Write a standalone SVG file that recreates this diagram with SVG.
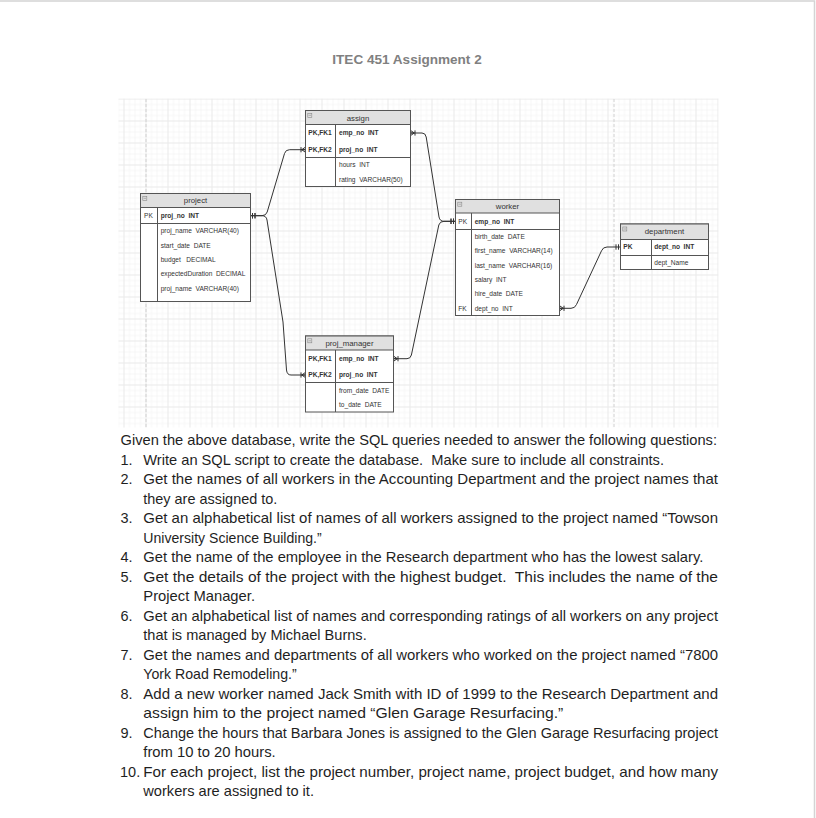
<svg xmlns="http://www.w3.org/2000/svg" width="816" height="818" viewBox="0 0 816 818">
<style>
.t{font-family:"Liberation Sans",Arial,sans-serif;font-size:6.6px;fill:#333;white-space:pre}
.b{font-weight:bold}
.h{font-family:"Liberation Sans",Arial,sans-serif;font-size:7.8px;text-anchor:middle;fill:#333}
.box{fill:#fff;stroke:#555;stroke-width:1}
.hd{fill:#e0e0e0;stroke:#555;stroke-width:1}
.ln{stroke:#555;stroke-width:1;fill:none}
.ic{fill:none;stroke:#888;stroke-width:.6}
.conn path{fill:none;stroke:#333;stroke-width:1}
.mk{fill:none;stroke:#333;stroke-width:1}
.body{font-family:"Liberation Sans",Arial,sans-serif;font-size:14.5px;fill:#1f1f1f;white-space:pre}
.title{font-family:"Liberation Sans",Arial,sans-serif;font-size:13px;font-weight:bold;fill:#808080}
</style>
<defs>
<pattern id="grid" x="123.5" y="98.5" width="22" height="22" patternUnits="userSpaceOnUse">
<path d="M6 0V22M11.5 0V22M17 0V22M0 6H22M0 11.5H22M0 17H22" stroke="#f6f6f6" stroke-width="1" fill="none"/>
<path d="M0.5 0V22M0 0.5H22" stroke="#e9e9e9" stroke-width="1" fill="none"/>
</pattern>
<marker id="one" markerWidth="12" markerHeight="12" refX="10" refY="5" orient="auto-start-reverse" markerUnits="userSpaceOnUse" overflow="visible">
<path class="mk" d="M8,2.3V7.7M5.5,2.3V7.7"/>
</marker>
<marker id="many" markerWidth="12" markerHeight="12" refX="10" refY="5" orient="auto-start-reverse" markerUnits="userSpaceOnUse" overflow="visible">
<path class="mk" d="M10,2.4L6.2,5L10,7.6M6.2,5H10M5.5,2.4V7.6"/>
</marker>
</defs>

<rect x="0" y="0" width="816" height="818" fill="#fff"/>
<path d="M0 1H814.5V818" fill="none" stroke="#d4d4d4" stroke-width="1.5"/>

<text class="title" x="332.3" y="64" textLength="149.4" lengthAdjust="spacingAndGlyphs">ITEC 451 Assignment 2</text>

<g id="grid-bg">
<rect x="118.5" y="98.5" width="600" height="329" fill="url(#grid)"/>
<path d="M146 99V427M614 99V427" stroke="#d2d2d2" stroke-width="1" stroke-dasharray="3 2" fill="none"/>
</g>

<g class="conn" id="connectors">
<path d="M250.5,215.7 H262 Q266,215.7 267.2,212 L284.5,153.5 Q285.6,149.7 289.5,149.7 H305.5" marker-start="url(#one)" marker-end="url(#many)"/>
<path d="M250.5,215.7 H262 Q266.3,215.7 267,220 L283,322 L286.5,370 Q287,375 291,375 H305.5" marker-start="url(#one)" marker-end="url(#many)"/>
<path d="M410.5,133 H422 Q425.5,133 426.2,137 L439,217 Q439.8,221.3 444,221.3 H455.5" marker-start="url(#many)" marker-end="url(#one)"/>
<path d="M393.5,358.7 H407 Q410.5,358.7 411.4,355 L438.8,225 Q439.8,221.3 444,221.3 H455.5" marker-start="url(#many)" marker-end="url(#one)"/>
<path d="M559.5,308.3 H571 Q575,308.3 576.5,304.5 L601.5,250.8 Q603,247 607,247 H620.5" marker-start="url(#many)" marker-end="url(#one)"/>
</g>

<g id="assign">
<rect class="box" x="305.5" y="110.5" width="105" height="76"/>
<rect class="hd" x="305.5" y="110.5" width="105" height="14"/>
<path class="ln" d="M305.5 157.5H410.5M335.5 124.5V186.5"/>
<rect class="ic" x="307.8" y="113.3" width="4" height="4"/><path class="ic" d="M308.6 115.3H311"/>
<text class="h" x="358" y="120.5">assign</text>
<text class="t b" x="308.3" y="135.3">PK,FK1</text><text class="t b" x="339" y="135.3">emp_no  INT</text>
<text class="t b" x="308.3" y="152">PK,FK2</text><text class="t b" x="339" y="152">proj_no  INT</text>
<text class="t" x="339" y="167.3">hours  INT</text>
<text class="t" x="339" y="181.6">rating  VARCHAR(50)</text>
</g>

<g id="project">
<rect class="box" x="140.5" y="193.5" width="110" height="108"/>
<rect class="hd" x="140.5" y="193.5" width="110" height="14"/>
<path class="ln" d="M140.5 223.5H250.5M157.5 207.5V301.5"/>
<rect class="ic" x="142.8" y="196.3" width="4" height="4"/><path class="ic" d="M143.6 198.3H146"/>
<text class="h" x="195.5" y="203.3">project</text>
<text class="t" x="144" y="218">PK</text><text class="t b" x="160.7" y="218">proj_no  INT</text>
<text class="t" x="160.7" y="233.3">proj_name  VARCHAR(40)</text>
<text class="t" x="160.7" y="247.6">start_date  DATE</text>
<text class="t" x="160.7" y="262">budget   DECIMAL</text>
<text class="t" x="160.7" y="276.3">expectedDuration  DECIMAL</text>
<text class="t" x="160.7" y="290.6">proj_name  VARCHAR(40)</text>
</g>

<g id="worker">
<rect class="box" x="455.5" y="199.5" width="104" height="116"/>
<rect class="hd" x="455.5" y="199.5" width="104" height="13.5"/>
<path class="ln" d="M455.5 229.5H559.5M471.5 213V315.5"/>
<rect class="ic" x="457.8" y="202.2" width="4" height="4"/><path class="ic" d="M458.6 204.2H461"/>
<text class="h" x="507.5" y="209">worker</text>
<text class="t" x="458.3" y="223.6">PK</text><text class="t b" x="474.7" y="223.6">emp_no  INT</text>
<text class="t" x="474.7" y="239">birth_date  DATE</text>
<text class="t" x="474.7" y="253.3">first_name  VARCHAR(14)</text>
<text class="t" x="474.7" y="267.6">last_name  VARCHAR(16)</text>
<text class="t" x="474.7" y="282">salary  INT</text>
<text class="t" x="474.7" y="296.3">hire_date  DATE</text>
<text class="t" x="458.3" y="310.6">FK</text><text class="t" x="474.7" y="310.6">dept_no  INT</text>
</g>

<g id="department">
<rect class="box" x="620.5" y="224" width="88" height="45.5"/>
<rect class="hd" x="620.5" y="224" width="88" height="15.5"/>
<path class="ln" d="M620.5 255.5H708.5M651.5 239.5V269.5"/>
<rect class="ic" x="622.8" y="227" width="4" height="4"/><path class="ic" d="M623.6 229H626"/>
<text class="h" x="664.5" y="234.3">department</text>
<text class="t b" x="623.3" y="249.3">PK</text><text class="t b" x="654.3" y="249.3">dept_no  INT</text>
<text class="t" x="654.3" y="264.6">dept_Name</text>
</g>

<g id="proj_manager">
<rect class="box" x="305.5" y="336" width="88" height="76"/>
<rect class="hd" x="305.5" y="336" width="88" height="14"/>
<path class="ln" d="M305.5 382.5H393.5M335.5 350V412"/>
<rect class="ic" x="307.8" y="338.8" width="4" height="4"/><path class="ic" d="M308.6 340.8H311"/>
<text class="h" x="349.5" y="345.8">proj_manager</text>
<text class="t b" x="308.3" y="361">PK,FK1</text><text class="t b" x="339" y="361">emp_no  INT</text>
<text class="t b" x="308.3" y="377.3">PK,FK2</text><text class="t b" x="339" y="377.3">proj_no  INT</text>
<text class="t" x="339" y="393">from_date  DATE</text>
<text class="t" x="339" y="407.3">to_date  DATE</text>
</g>

<g id="questions">
<text class="body" x="120.5" y="445" textLength="596.5" lengthAdjust="spacingAndGlyphs">Given the above database, write the SQL queries needed to answer the following questions:</text>
<text class="body" x="120.5" y="464.5">1.</text>
<text class="body" x="143.3" y="464.5" textLength="520.7" lengthAdjust="spacingAndGlyphs">Write an SQL script to create the database.  Make sure to include all constraints.</text>
<text class="body" x="120.5" y="484">2.</text>
<text class="body" x="143.3" y="484" textLength="574.7" lengthAdjust="spacingAndGlyphs">Get the names of all workers in the Accounting Department and the project names that</text>
<text class="body" x="143.3" y="503.5" textLength="134" lengthAdjust="spacingAndGlyphs">they are assigned to.</text>
<text class="body" x="120.5" y="523">3.</text>
<text class="body" x="143.3" y="523" textLength="574.7" lengthAdjust="spacingAndGlyphs">Get an alphabetical list of names of all workers assigned to the project named “Towson</text>
<text class="body" x="143.3" y="542.5" textLength="178.4" lengthAdjust="spacingAndGlyphs">University Science Building.”</text>
<text class="body" x="120.5" y="562">4.</text>
<text class="body" x="143.3" y="562" textLength="560" lengthAdjust="spacingAndGlyphs">Get the name of the employee in the Research department who has the lowest salary.</text>
<text class="body" x="120.5" y="581.5">5.</text>
<text class="body" x="143.3" y="581.5" textLength="574.7" lengthAdjust="spacingAndGlyphs">Get the details of the project with the highest budget.  This includes the name of the</text>
<text class="body" x="143.3" y="601" textLength="111.7" lengthAdjust="spacingAndGlyphs">Project Manager.</text>
<text class="body" x="120.5" y="620.5">6.</text>
<text class="body" x="143.3" y="620.5" textLength="574.7" lengthAdjust="spacingAndGlyphs">Get an alphabetical list of names and corresponding ratings of all workers on any project</text>
<text class="body" x="143.3" y="640" textLength="223.4" lengthAdjust="spacingAndGlyphs">that is managed by Michael Burns.</text>
<text class="body" x="120.5" y="659.5">7.</text>
<text class="body" x="143.3" y="659.5" textLength="574.7" lengthAdjust="spacingAndGlyphs">Get the names and departments of all workers who worked on the project named “7800</text>
<text class="body" x="143.3" y="679" textLength="153.4" lengthAdjust="spacingAndGlyphs">York Road Remodeling.”</text>
<text class="body" x="120.5" y="698.5">8.</text>
<text class="body" x="143.3" y="698.5" textLength="574.7" lengthAdjust="spacingAndGlyphs">Add a new worker named Jack Smith with ID of 1999 to the Research Department and</text>
<text class="body" x="143.3" y="718" textLength="420" lengthAdjust="spacingAndGlyphs">assign him to the project named “Glen Garage Resurfacing.”</text>
<text class="body" x="120.5" y="737.5">9.</text>
<text class="body" x="143.3" y="737.5" textLength="574.7" lengthAdjust="spacingAndGlyphs">Change the hours that Barbara Jones is assigned to the Glen Garage Resurfacing project</text>
<text class="body" x="143.3" y="757" textLength="132.4" lengthAdjust="spacingAndGlyphs">from 10 to 20 hours.</text>
<text class="body" x="120" y="776.5">10.</text>
<text class="body" x="143.3" y="776.5" textLength="574.7" lengthAdjust="spacingAndGlyphs">For each project, list the project number, project name, project budget, and how many</text>
<text class="body" x="143.3" y="796" textLength="170.7" lengthAdjust="spacingAndGlyphs">workers are assigned to it.</text>
</g>
</svg>
